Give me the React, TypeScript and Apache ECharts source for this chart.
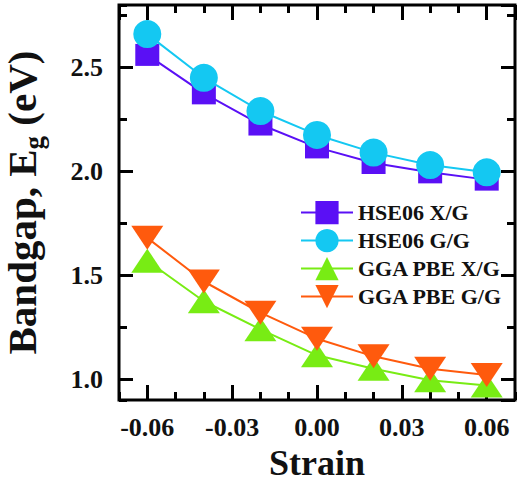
import React, { useEffect, useRef } from "react";
import * as echarts from "echarts";

const strain = [-0.06, -0.04, -0.02, 0, 0.02, 0.04, 0.06];
const hseXG = [2.56, 2.375, 2.225, 2.115, 2.04, 1.995, 1.96];
const hseGG = [2.66, 2.45, 2.29, 2.175, 2.09, 2.03, 1.995];
const pbeXG = [1.57, 1.375, 1.24, 1.115, 1.05, 0.995, 0.97];
const pbeGG = [1.68, 1.47, 1.32, 1.195, 1.11, 1.05, 1.02];
const seriesNames = ["HSE06 X/G", "HSE06 G/G", "GGA PBE X/G", "GGA PBE G/G"];
const seriesColors = ["#5a10f5", "#14c8f2", "#78ec14", "#ff5a0d"];

const FONT = "'Liberation Serif', 'Times New Roman', serif";

export default function App() {
  const ref = useRef<HTMLDivElement>(null);
  useEffect(() => {
    if (!ref.current) return;
    const chart = echarts.init(ref.current, null, { renderer: "svg" });
    const pair = (ys: number[]) => strain.map((x, i) => [x, ys[i]]);
    const tickStyle = { width: 3, color: "#000" };
    const baseX = (pos: string, major: boolean, labels: boolean) => ({
      type: "value",
      position: pos,
      min: -0.07,
      max: 0.07,
      ...(major ? { minInterval: 0.03, maxInterval: 0.03 } : { interval: 0.01 }),
      axisLine: { show: false, onZero: false },
      axisTick: { show: true, inside: true, length: major ? 15 : 8, lineStyle: tickStyle },
      axisLabel: labels
        ? {
            show: true,
            showMinLabel: false,
            showMaxLabel: false,
            margin: 14,
            fontFamily: FONT,
            fontWeight: "bold",
            fontSize: 26,
            color: "#111",
            formatter: (v: number) => (Math.abs(v) < 1e-9 ? 0 : v).toFixed(2),
          }
        : { show: false },
      splitLine: { show: false },
    });
    const baseY = (pos: string, major: boolean, labels: boolean) => ({
      type: "value",
      position: pos,
      min: 0.9,
      max: 2.8,
      minInterval: major ? 0.5 : 0.25,
      maxInterval: major ? 0.5 : 0.25,
      axisLine: { show: false, onZero: false },
      axisTick: { show: true, inside: true, length: major ? 14 : 8, lineStyle: tickStyle },
      axisLabel: labels
        ? {
            show: true,
            showMinLabel: false,
            showMaxLabel: false,
            margin: 16,
            fontFamily: FONT,
            fontWeight: "bold",
            fontSize: 26,
            color: "#111",
            formatter: (v: number) => v.toFixed(1),
          }
        : { show: false },
      splitLine: { show: false },
    });
    const xAxes: any[] = [
      {
        ...baseX("bottom", true, true),
        name: "Strain",
        nameLocation: "middle",
        nameGap: 41,
        nameTextStyle: { fontFamily: FONT, fontWeight: "bold", fontSize: 36, lineHeight: 36, color: "#111" },
      },
      baseX("bottom", false, false),
      baseX("top", true, false),
      baseX("top", false, false),
    ];
    const yAxes: any[] = [
      {
        ...baseY("left", true, true),
        name: "{a|Bandgap, E}{s|g}{a| (eV)}",
        nameLocation: "middle",
        nameRotate: 90,
        nameGap: 72,
        nameTextStyle: {
          rich: {
            a: { fontFamily: FONT, fontWeight: "bold", fontSize: 41, color: "#111", lineHeight: 50 },
            s: { fontFamily: FONT, fontWeight: "bold", fontSize: 27, color: "#111", lineHeight: 28, verticalAlign: "bottom" },
          },
        },
      },
      baseY("left", false, false),
      baseY("right", true, false),
      baseY("right", false, false),
    ];
    const symbols = ["rect", "circle", "triangle", "triangle"];
    const sizes: any[] = [[24, 22], 28, [32, 24], [32, 24]];
    const rots = [0, 0, 0, 180];
    const datas = [hseXG, hseGG, pbeXG, pbeGG];
    const series = datas.map((d, i) => ({
      name: seriesNames[i],
      type: "line",
      xAxisIndex: 0,
      yAxisIndex: 0,
      data: pair(d),
      symbol: symbols[i],
      symbolSize: sizes[i],
      symbolRotate: rots[i],
      showAllSymbol: true,
      lineStyle: { color: seriesColors[i], width: 2 },
      itemStyle: { color: seriesColors[i] },
      z: 2 + i,
    }));
    const legendTops = [201, 229, 257, 285];
    const legends = seriesNames.map((n, i) => ({
      data: [n],
      left: 300,
      top: legendTops[i],
      orient: "vertical",
      itemWidth: 52,
      itemHeight: 29,
      itemGap: 0,
      padding: 0,
      selectedMode: false,
      textStyle: { fontFamily: FONT, fontWeight: "bold", fontSize: 22, color: "#111" },
    }));
    chart.setOption({
      animation: false,
      backgroundColor: "#fff",
      grid: {
        left: 119,
        right: 5,
        top: 5,
        bottom: 82,
        containLabel: false,
        outerBoundsMode: "none",
        show: true,
        borderColor: "#000",
        borderWidth: 3,
        backgroundColor: "transparent",
      },
      legend: legends,
      xAxis: xAxes,
      yAxis: yAxes,
      series,
    });
    return () => chart.dispose();
  }, []);
  return (
    <div
      ref={ref}
      style={{ position: "fixed", left: 0, top: 0, width: 520, height: 482, background: "#fff" }}
    />
  );
}
